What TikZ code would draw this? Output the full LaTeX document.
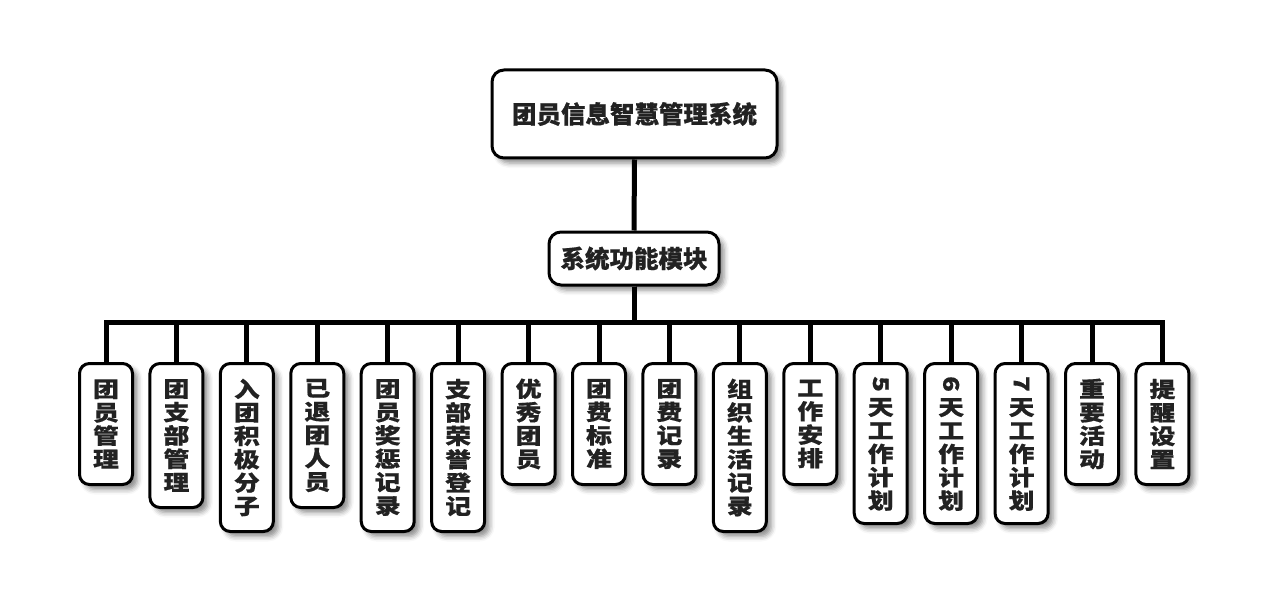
\documentclass[tikz,border=0pt]{standalone}
\usepackage{fontspec}
\usepackage{graphicx}
\usetikzlibrary{shadows.blur}
\newfontfamily\cjk{Noto Sans CJK SC}[BoldFeatures={FakeBold=0.6}]
\newfontfamily\cjkwide{Noto Sans CJK SC}[FakeStretch=1.2, BoldFeatures={FakeStretch=1.2, FakeBold=0.6}]
\newcommand{\leaffont}{\cjkwide\bfseries\fontsize{21.5}{23.4}\selectfont\lineskiplimit=-10pt\relax}
\definecolor{ink}{HTML}{222222}
\tikzset{
  box/.style={draw=black, line width=3pt, fill=white, rounded corners=#1,
    text=ink, inner sep=0pt,
    blur shadow={shadow xshift=5pt, shadow yshift=-5pt, shadow blur radius=5pt, shadow opacity=45}},
  headbox/.style={box=12pt, font=\cjk\bfseries\fontsize{24.5}{28}\selectfont},
  leaf/.style={box=10pt, minimum width=53pt, minimum height=#1, anchor=north,
    align=center, font=\leaffont},
  link/.style={line width=5pt, draw=black}
}
\newcommand{\rdigit}[1]{\rotatebox[origin=c]{-90}{#1}}
\begin{document}
\begin{tikzpicture}[x=1pt,y=1pt]
\useasboundingbox (0,0) rectangle (1269,-607);

% root and module nodes
\node[headbox, minimum width=285pt, minimum height=88pt] (root) at (634.5,-114) {团员信息智慧管理系统};
\node[headbox, minimum width=170pt, minimum height=53pt] (mod) at (634,-258.5) {系统功能模块};

% leaf modules
\def\dx{70.43}
\node[leaf=121pt] (l1)  at (106+0*\dx,-362) {团\\员\\管\\理};
\node[leaf=144pt] (l2)  at (106+1*\dx,-362) {团\\支\\部\\管\\理};
\node[leaf=168pt] (l3)  at (106+2*\dx,-362) {入\\团\\积\\极\\分\\子};
\node[leaf=144pt] (l4)  at (106+3*\dx,-362) {已\\退\\团\\人\\员};
\node[leaf=168pt] (l5)  at (106+4*\dx,-362) {团\\员\\奖\\惩\\记\\录};
\node[leaf=168pt] (l6)  at (106+5*\dx,-362) {支\\部\\荣\\誉\\登\\记};
\node[leaf=121pt] (l7)  at (106+6*\dx,-362) {优\\秀\\团\\员};
\node[leaf=121pt] (l8)  at (106+7*\dx,-362) {团\\费\\标\\准};
\node[leaf=121pt] (l9)  at (106+8*\dx,-362) {团\\费\\记\\录};
\node[leaf=168pt] (l10) at (106+9*\dx,-362) {组\\织\\生\\活\\记\\录};
\node[leaf=121pt] (l11) at (106+10*\dx,-362) {工\\作\\安\\排};
\node[leaf=160pt] (l12) at (106+11*\dx,-362) {\rdigit{5}\\天\\工\\作\\计\\划};
\node[leaf=160pt] (l13) at (106+12*\dx,-362) {\rdigit{6}\\天\\工\\作\\计\\划};
\node[leaf=160pt] (l14) at (106+13*\dx,-362) {\rdigit{7}\\天\\工\\作\\计\\划};
\node[leaf=121pt] (l15) at (106+14*\dx,-362) {重\\要\\活\\动};
\node[leaf=121pt] (l16) at (106+15*\dx,-362) {提\\醒\\设\\置};

% connectors
\coordinate (bus) at (0,-322);
\begin{scope}[on background layer/.try]
\draw[link] (root.south) -- (mod.north);
\foreach \k in {1,...,16}{
  \draw[link] (mod.south) -- (mod.south |- bus) -| (l\k.north);
}
\end{scope}
\end{tikzpicture}
\end{document}
